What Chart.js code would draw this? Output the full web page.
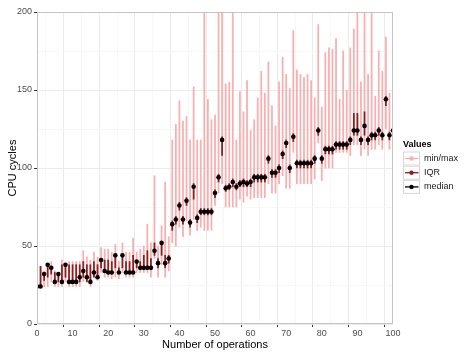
<!DOCTYPE html>
<html><head><meta charset="utf-8">
<script src="https://cdn.jsdelivr.net/npm/chart.js@4/dist/chart.umd.min.js"></script>
<style>html,body{margin:0;padding:0;background:#fff;}#wrap{width:474px;height:355px;}</style>
</head><body><div id="wrap"><canvas id="c" width="474" height="355"></canvas></div>
<script>
const ops = [0,1,2,3,4,5,6,7,8,9,10,11,12,13,14,15,16,17,18,19,20,21,22,23,24,25,26,27,28,29,30,31,32,33,34,35,36,37,38,39,40,41,42,43,44,45,46,47,48,49,50,51,52,53,54,55,56,57,58,59,60,61,62,63,64,65,66,67,68,69,70,71,72,73,74,75,76,77,78,79,80,81,82,83,84,85,86,87,88,89,90,91,92,93,94,95,96,97,98,99,100];
const medianV = [24,24,32,38,36,27,32,27,38,27,27,27,30,34,30,27,33,30,41,34,33,33,44,33,44,33,33,33,40,36,36,36,36,47,39,52,39,42,64,67,76,67,79,65,88,68,72,72,72,72,84,94,118,87,88,91,88,90,91,90,91,94,94,94,94,106,97,97,100,109,116,100,120,103,103,103,103,103,106,124,106,112,112,112,115,115,115,115,118,124,124,118,127,118,121,121,124,121,144,121,124];
const q1V = [24,24,28,30,32,27,27,27,30,27,27,27,27,30,27,27,30,30,36,33,33,33,36,33,36,33,33,33,36,36,36,36,36,44,36,44,36,39,60,64,73,64,76,62,80,65,70,70,70,70,81,91,108,85,86,88,86,88,88,88,88,91,91,91,91,103,94,94,97,106,113,97,117,100,100,100,100,100,103,121,103,109,109,109,112,112,112,112,115,121,121,115,121,115,118,118,121,118,140,118,121];
const q3V = [24,37,33,38,37,33,32,38,38,38,38,38,38,40,38,38,40,38,41,41,41,40,44,36,44,40,40,44,40,40,44,47,42,52,42,52,44,44,66,69,78,69,81,67,90,70,74,74,74,74,86,96,120,89,90,93,90,92,93,92,93,96,96,96,96,108,99,99,102,111,118,102,122,105,105,105,105,105,108,126,108,114,114,114,117,117,117,117,120,135,135,120,136,120,123,123,126,123,146,123,126];
const minV = [24,24,24,24,27,24,24,24,27,24,24,24,24,27,27,24,30,28,33,30,30,29,30,29,33,30,30,30,33,33,33,33,30,42,30,38,30,34,52,50,62,56,66,57,67,60,62,60,60,60,76,84,90,75,75,75,75,80,78,82,80,81,81,81,81,90,84,84,90,95,87,87,110,90,90,90,90,90,93,116,92,100,100,100,110,110,110,110,108,115,115,108,112,108,112,112,115,112,125,112,115];
const maxV = [24,37,34,39,40,34,33,41,39,40,40,40,40,47,43,41,46,43,49,48,48,46,51,40,52,46,46,55,46,48,50,64,52,95,50,63,91,56,118,128,143,130,133,118,152,118,118,210,144,131,134,210,210,154,155,210,118,149,136,156,124,131,145,162,148,168,140,127,155,171,160,151,188,163,160,158,160,156,145,192,139,174,177,176,183,144,175,150,177,189,210,155,210,160,210,146,175,162,184,148,128];
const yTicks = [0,50,100,150,200];
const xTicks = [0,10,20,30,40,50,60,70,80,90,100];

const PINK = '#f7afaf', DARK = '#8e1f1f', FONT = "'Liberation Sans', Arial, sans-serif";
const rangeData = ops.map((x,i)=>({x:x, y:[minV[i], maxV[i]]}));
const iqrData = ops.map((x,i)=>({x:x, y:[q1V[i], q3V[i]]}));
const medData = ops.map((x,i)=>({x:x, y:medianV[i]}));

const legendPlugin = {
  id:'ggLegend',
  afterDraw(chart){
    const ctx = chart.ctx;
    ctx.save();
    ctx.fillStyle = '#000';
    ctx.font = "bold 9px " + FONT;
    ctx.textBaseline = 'middle'; ctx.textAlign = 'left';
    ctx.fillText('Values', 403, 145);
    const items = [['min/max', PINK], ['IQR', DARK], ['median', '#000']];
    items.forEach((it, k)=>{
      const cy = 158.5 + k*14.2;
      ctx.fillStyle = '#ffffff';
      ctx.fillRect(403, cy-7, 17, 14);
      ctx.strokeStyle = '#d6d6d6'; ctx.lineWidth = 1;
      ctx.strokeRect(403.5, cy-6.5, 16, 13);
      ctx.strokeStyle = it[1]; ctx.lineWidth = 1.3;
      ctx.beginPath(); ctx.moveTo(405, cy); ctx.lineTo(418.5, cy); ctx.stroke();
      ctx.fillStyle = it[1];
      ctx.beginPath(); ctx.arc(411.5, cy, 2.2, 0, Math.PI*2); ctx.fill();
      ctx.fillStyle = '#1a1a1a'; ctx.font = "9px " + FONT;
      ctx.fillText(it[0], 424, cy);
    });
    ctx.restore();
  }
};
const borderPlugin = {
  id:'panelBorder',
  afterDatasetsDraw(chart){
    const a = chart.chartArea, ctx = chart.ctx;
    ctx.save(); ctx.strokeStyle = '#c4c4c4'; ctx.lineWidth = 1;
    ctx.strokeRect(Math.round(a.left)+0.5, Math.round(a.top)+0.5, Math.round(a.right-a.left)-1, Math.round(a.bottom-a.top)-1);
    ctx.restore();
  }
};

new Chart(document.getElementById('c'), {
  type:'bar',
  data:{ datasets:[
    {label:'min/max', data:rangeData, backgroundColor:PINK, barThickness:1.1, grouped:false, order:3},
    {label:'IQR', data:iqrData, backgroundColor:DARK, barThickness:1.1, grouped:false, order:2},
    {label:'median', type:'scatter', data:medData, backgroundColor:'#000', borderWidth:0, pointRadius:2.3, order:1}
  ]},
  options:{
    responsive:false, animation:false,
    layout:{padding:{left:0, right:81, top:12, bottom:0}},
    plugins:{legend:{display:false}, tooltip:{enabled:false}},
    scales:{
      x:{type:'linear', min:0, max:100, offset:false,
        afterFit(s){ s.height = 31; },
        ticks:{stepSize:5, autoSkip:false, maxRotation:0, padding:1, color:'#4d4d4d', font:{family:FONT, size:9},
          callback:(v)=> xTicks.includes(v) ? String(v) : ''},
        grid:{color:(c)=> (c.tick && c.tick.value%10===0) ? '#ebebeb' : '#f7f7f7', lineWidth:1, tickLength:3,
          tickColor:(c)=> (c.tick && c.tick.value%10===0) ? '#333' : 'rgba(0,0,0,0)'},
        border:{display:false},
        title:{display:true, text:'Number of operations', color:'#000', font:{family:FONT, size:11}, padding:{top:0, bottom:3}}
      },
      y:{type:'linear', min:0, max:200,
        afterFit(s){ s.width = 37; },
        ticks:{stepSize:25, autoSkip:false, padding:2, color:'#4d4d4d', font:{family:FONT, size:9},
          callback:(v)=> yTicks.includes(v) ? String(v) : ''},
        grid:{color:(c)=> (c.tick && c.tick.value%50===0) ? '#ebebeb' : '#f7f7f7', lineWidth:1, tickLength:3,
          tickColor:(c)=> (c.tick && c.tick.value%50===0) ? '#333' : 'rgba(0,0,0,0)'},
        border:{display:false},
        title:{display:true, text:'CPU cycles', color:'#000', font:{family:FONT, size:11}, padding:{top:6, bottom:0}}
      }
    }
  },
  plugins:[legendPlugin, borderPlugin]
});
</script></body></html>
